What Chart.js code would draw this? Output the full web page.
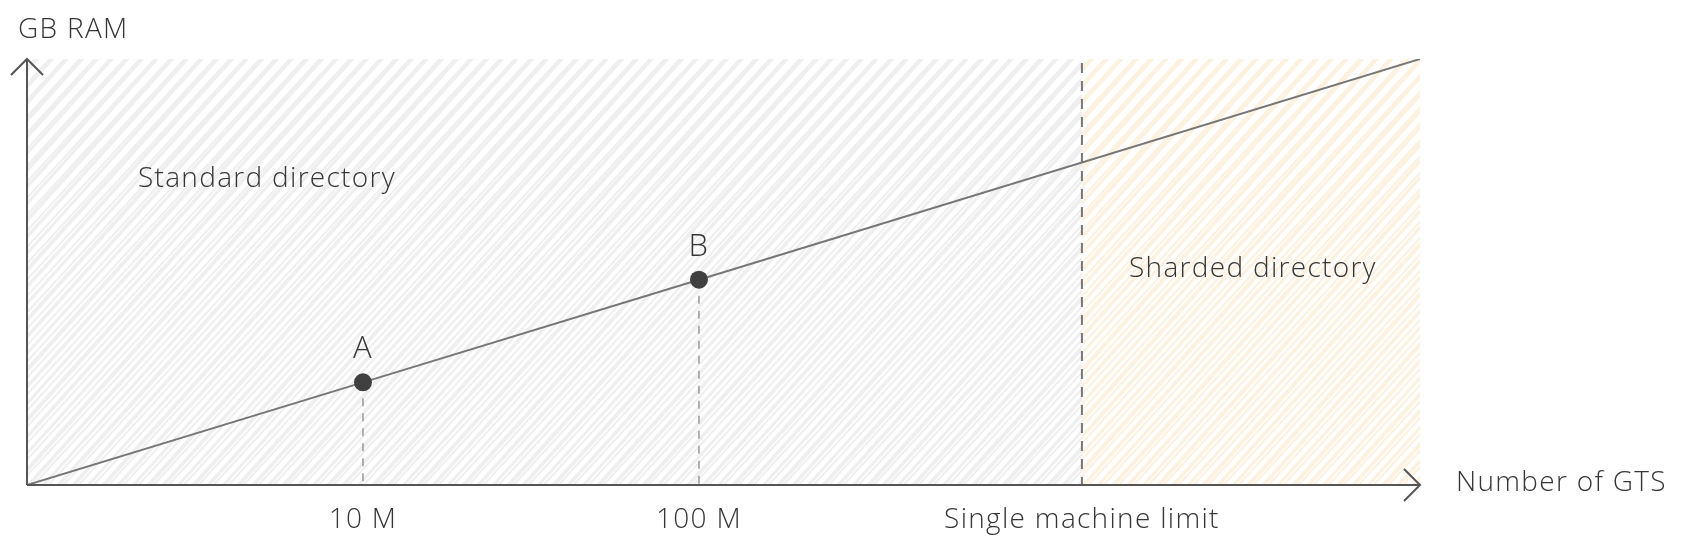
<!DOCTYPE html>
<html lang="en">

<head>
    <meta charset="UTF-8">
    <title>GB RAM vs Number of GTS</title>
    <script src="https://cdn.jsdelivr.net/npm/chart.js"></script>
    <style>
        html, body { margin: 0; padding: 0; background: #fff; }
        .boxGrafico { width: 1682px; height: 551px; }
    </style>
</head>

<body>
    <div class="boxGrafico">
        <canvas id="grafico" width="1682" height="551"></canvas>
    </div>

    <script>
        // data
        const gtsCounts = [1e6, 1e7, 1e8, 1.4e10];
        const ramValues = [0, 1, 2, 4.15];
        const pointNames = ['', 'A', 'B', ''];
        const tickValues = [1e7, 1e8, 1.38e9];
        const tickLabels = ['10 M', '100 M', 'Single machine limit'];
        const machineLimit = 1.38e9;

        const fontName = '"Open Sans", Lato, sans-serif';
        const textColor = '#363636';

        function hatch(ctx, x0, y0, x1, y1, color) {
            ctx.save();
            ctx.beginPath();
            ctx.rect(x0, y0, x1 - x0, y1 - y0);
            ctx.clip();
            ctx.strokeStyle = color;
            ctx.lineCap = 'round';
            const h = y1 - y0;
            const run = h * 0.9;
            let k = 0;
            for (let x = x0 - run - 20; x < x1 + 20; x += 15) {
                ctx.lineWidth = [3.5, 3, 4][k % 3];
                ctx.beginPath();
                ctx.moveTo(x, y1);
                ctx.lineTo(x + run, y0);
                ctx.stroke();
                ctx.lineWidth = 2;
                ctx.beginPath();
                ctx.moveTo(x + 5, y1);
                ctx.lineTo(x + 5 + run * 1.02, y0);
                ctx.stroke();
                k++;
            }
            ctx.restore();
        }

        const fondo = {
            id: 'fondo',
            beforeDraw(chart) {
                chart.ctx.letterSpacing = '1.3px';
            },
            beforeDatasetsDraw(chart) {
                const { ctx, chartArea: a, scales } = chart;
                const lim = scales.x.getPixelForValue(machineLimit);
                hatch(ctx, a.left, a.top, lim, a.bottom, '#efefef');
                hatch(ctx, lim, a.top, a.right, a.bottom, '#fdf1df');

                ctx.save();
                // dashed drop lines under A and B
                ctx.strokeStyle = '#999999';
                ctx.lineWidth = 1.5;
                ctx.setLineDash([8, 7]);
                gtsCounts.forEach((v, i) => {
                    if (!pointNames[i]) return;
                    const px = scales.x.getPixelForValue(v);
                    const py = scales.y.getPixelForValue(ramValues[i]);
                    ctx.beginPath();
                    ctx.moveTo(px, py + 16);
                    ctx.lineTo(px, a.bottom);
                    ctx.stroke();
                });
                // machine limit
                ctx.strokeStyle = '#777777';
                ctx.lineWidth = 2;
                ctx.setLineDash([10, 8]);
                ctx.beginPath();
                ctx.moveTo(lim, a.top + 4);
                ctx.lineTo(lim, a.bottom);
                ctx.stroke();
                ctx.restore();
            },
            afterDraw(chart) {
                const { ctx, chartArea: a, scales } = chart;
                ctx.save();
                // axes with arrows
                ctx.strokeStyle = '#555555';
                ctx.lineWidth = 2;
                ctx.beginPath();
                ctx.moveTo(a.left, a.bottom);
                ctx.lineTo(a.left, a.top);
                ctx.moveTo(a.left - 16, a.top + 16);
                ctx.lineTo(a.left, a.top);
                ctx.lineTo(a.left + 16, a.top + 16);
                ctx.moveTo(a.left, a.bottom);
                ctx.lineTo(a.right, a.bottom);
                ctx.moveTo(a.right - 16, a.bottom - 16);
                ctx.lineTo(a.right, a.bottom);
                ctx.lineTo(a.right - 16, a.bottom + 16);
                ctx.stroke();

                ctx.fillStyle = textColor;
                ctx.font = '300 28px ' + fontName;
                ctx.textBaseline = 'middle';
                ctx.textAlign = 'left';
                ctx.fillText('GB RAM', 18, 30);
                ctx.fillText('Number of GTS', a.right + 36, a.bottom - 2);
                ctx.fillText('Standard directory', 138, 179);
                ctx.fillText('Sharded directory', 1129, 269);

                // point names
                ctx.textAlign = 'center';
                ctx.font = '300 31px ' + fontName;
                gtsCounts.forEach((v, i) => {
                    if (!pointNames[i]) return;
                    const px = scales.x.getPixelForValue(v);
                    const py = scales.y.getPixelForValue(ramValues[i]);
                    ctx.fillText(pointNames[i], px, py - 33);
                });
                ctx.restore();
            }
        };

        const ctx = document.getElementById('grafico').getContext('2d');
        const grafico = new Chart(ctx, {
            type: 'line',
            data: {
                datasets: [{
                    data: gtsCounts.map((v, i) => ({ x: v, y: ramValues[i] })),
                    borderColor: '#777777',
                    borderWidth: 2,
                    pointRadius: pointNames.map(n => n ? 9 : 0),
                    pointBackgroundColor: '#404040',
                    pointBorderWidth: 0,
                    fill: false,
                    tension: 0
                }]
            },
            options: {
                responsive: false,
                animation: false,
                layout: {
                    padding: { left: 27, right: 262, top: 59, bottom: 0 }
                },
                scales: {
                    x: {
                        type: 'logarithmic',
                        min: 1e6,
                        max: 1.4e10,
                        grid: { display: false, drawTicks: false },
                        border: { display: false },
                        afterBuildTicks: (scale) => {
                            scale.ticks = tickValues.map(v => ({ value: v }));
                        },
                        afterFit: (scale) => { scale.height = 66; },
                        ticks: {
                            autoSkip: false,
                            maxRotation: 0,
                            padding: 18,
                            color: textColor,
                            font: { family: fontName, size: 28, weight: '300' },
                            callback: (value, index) => tickLabels[index]
                        }
                    },
                    y: {
                        display: false,
                        min: 0,
                        max: 4.15
                    }
                },
                plugins: {
                    legend: { display: false },
                    tooltip: { enabled: false }
                }
            },
            plugins: [fondo]
        });
    </script>
</body>

</html>
